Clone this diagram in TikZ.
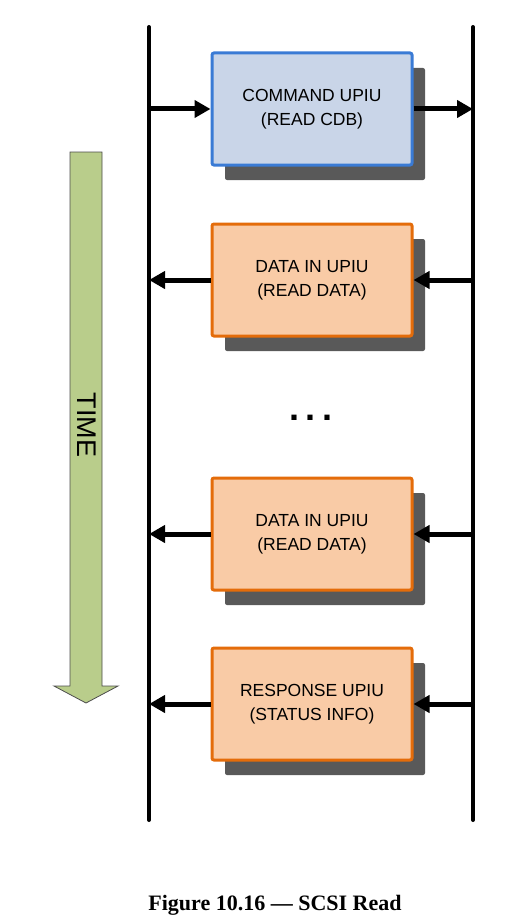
\documentclass[tikz,border=0pt]{standalone}
\usepackage{fontspec}
\setmainfont{Liberation Serif}
\setsansfont{Liberation Sans}
\usetikzlibrary{positioning,calc,arrows.meta,shadows}
\definecolor{cmdblue}{HTML}{3A7BD5}
\definecolor{cmdfill}{HTML}{C9D5E8}
\definecolor{dataorange}{HTML}{E46C0A}
\definecolor{datafill}{HTML}{F9CBA6}
\definecolor{shadowgray}{HTML}{595959}
\definecolor{timegreen}{HTML}{B9CD8B}

\begin{document}
\begin{tikzpicture}[x=1pt,y=-1pt,
        upiu/.style={rectangle, rounded corners=2pt, line width=3pt,
                     minimum width=200pt, minimum height=112pt,
                     align=center, font=\sffamily\fontsize{17.5}{24}\selectfont,
                     drop shadow={shadow xshift=13pt, shadow yshift=-15pt,
                                  fill=shadowgray, opacity=1}},
        cmd/.style={upiu, draw=cmdblue, fill=cmdfill},
        data/.style={upiu, draw=dataorange, fill=datafill},
        lane/.style={line width=4pt, line cap=round},
        msg/.style={line width=5pt, -{Triangle[length=16pt,width=17pt]}}]
  \useasboundingbox (0,0) rectangle (505,923);
  % host and device lanes
  \coordinate (ltop) at (149,27);
  \coordinate (lbot) at (149,820);
  \coordinate (rtop) at (473,27);
  \coordinate (rbot) at (473,820);
  \draw[lane] (ltop) -- (lbot);
  \draw[lane] (rtop) -- (rbot);
  % time arrow
  \draw[draw=black!70, line width=0.8pt, fill=timegreen]
    (70,152) -- (102,152) -- (102,686) -- (118,686) -- (86,703)
    -- (54,686) -- (70,686) -- cycle;
  \node[rotate=-90, font=\sffamily\fontsize{27}{27}\selectfont] (time) at (87,425) {TIME};
  % packets
  \node[cmd] (cmd) at (312,109) {COMMAND UPIU\\(READ CDB)};
  \node[data, below=56pt of cmd] (data1) {DATA IN UPIU\\(READ DATA)};
  \node[data, below=139pt of data1] (data2) {DATA IN UPIU\\(READ DATA)};
  \node[data, below=55pt of data2] (resp) {RESPONSE UPIU\\(STATUS INFO)};
  \node[font=\sffamily\bfseries\fontsize{36}{36}\selectfont] (dots) at (311,418)
    {.\hspace{7pt}.\hspace{7pt}.};
  \draw[msg] (ltop |- cmd.west) -- (cmd.west);
  \draw[msg] (cmd.east) -- (rtop |- cmd.east);
  \foreach \p in {data1,data2,resp} {
    \draw[msg] (\p.west) -- (ltop |- \p.west);
    \draw[msg] (rtop |- \p.east) -- (\p.east);
  }
  \node[font=\bfseries\fontsize{22}{24}\selectfont] (caption) at (275,905) {Figure 10.16 — SCSI Read};
\end{tikzpicture}
\end{document}
